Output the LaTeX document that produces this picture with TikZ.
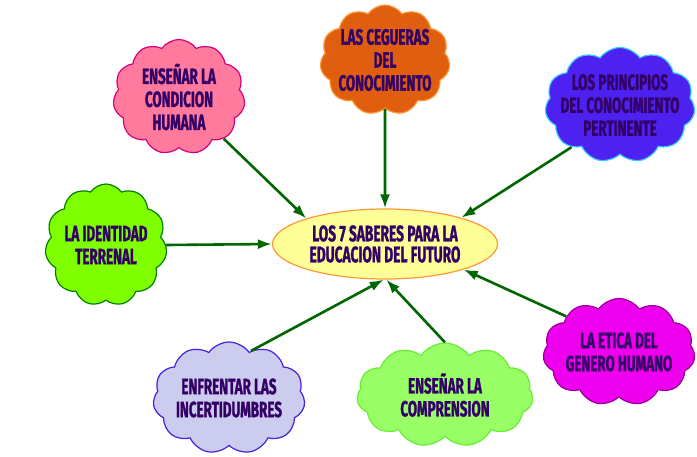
\documentclass[tikz,border=0pt]{standalone}
\usepackage{fontspec}
\setmainfont[FakeStretch=0.61,BoldFeatures={FakeBold=1.2}]{Fira Sans}
\usetikzlibrary{shapes.symbols,shapes.geometric,arrows.meta}
\definecolor{letra}{HTML}{330066}
\definecolor{flechaverde}{HTML}{006600}
\tikzset{
  saber/.style={cloud, cloud puffs=11, cloud puff arc=110, cloud ignores aspect,
    draw, line width=1.2pt, align=center, text=letra, inner sep=-9pt,
    font=\bfseries\fontsize{22}{23}\selectfont},
  flecha/.style={-{Latex[length=14pt,width=10pt]}, line width=2.6pt, draw=flechaverde}
}
\begin{document}
\begin{tikzpicture}[x=1pt,y=-1pt]
\useasboundingbox (0,0) rectangle (697,457);
\node[ellipse, draw={rgb,255:red,255;green,153;blue,51}, line width=1.2pt,
  fill={rgb,255:red,255;green,255;blue,153}, minimum width=225, minimum height=70,
  inner sep=0pt, align=center, text=letra, font=\bfseries\fontsize{22.5}{21}\selectfont]
  (centro) at (385,244) {LOS 7 SABERES PARA LA\\EDUCACION DEL FUTURO};
\node[saber, fill={rgb,255:red,255;green,122;blue,156}, draw={rgb,255:red,214;green,0;blue,122},
  minimum width=132, minimum height=115] (humana) at (179,97) {ENSEÑAR LA\\CONDICION\\HUMANA};
\node[saber, fill={rgb,255:red,224;green,94;blue,16}, draw={rgb,255:red,255;green,153;blue,51},
  minimum width=130, minimum height=110] (cegueras) at (385,60) {LAS CEGUERAS\\DEL\\CONOCIMIENTO};
\node[saber, fill={rgb,255:red,77;green,34;blue,240}, draw={rgb,255:red,51;green,204;blue,255},
  minimum width=150, minimum height=115] (principios) at (620,105) {LOS PRINCIPIOS\\DEL CONOCIMIENTO\\PERTINENTE};
\node[saber, fill={rgb,255:red,128;green,255;blue,0}, draw={rgb,255:red,0;green,128;blue,0},
  minimum width=122, minimum height=122] (identidad) at (106,245) {LA IDENTIDAD\\TERRENAL};
\node[saber, fill={rgb,255:red,204;green,204;blue,238}, draw={rgb,255:red,68;green,34;blue,221},
  minimum width=152, minimum height=112] (incertidumbres) at (229,398) {ENFRENTAR LAS\\INCERTIDUMBRES};
\node[saber, fill={rgb,255:red,153;green,255;blue,102}, draw={rgb,255:red,102;green,238;blue,51},
  minimum width=176, minimum height=104] (comprension) at (445,395) {ENSEÑAR LA\\COMPRENSION};
\node[saber, fill={rgb,255:red,238;green,0;blue,238}, draw={rgb,255:red,153;green,0;blue,153},
  minimum width=152, minimum height=107] (etica) at (619,352) {LA ETICA DEL\\GENERO HUMANO};
\foreach \a/\b in {humana.317/centro.162, cegueras.south/centro.north, principios.221/centro.19,
  identidad.east/centro.west, incertidumbres.65/centro.268, comprension.north/centro.272, etica.146/centro.342}
\draw[flecha] (\a) -- (\b);
\end{tikzpicture}
\end{document}
